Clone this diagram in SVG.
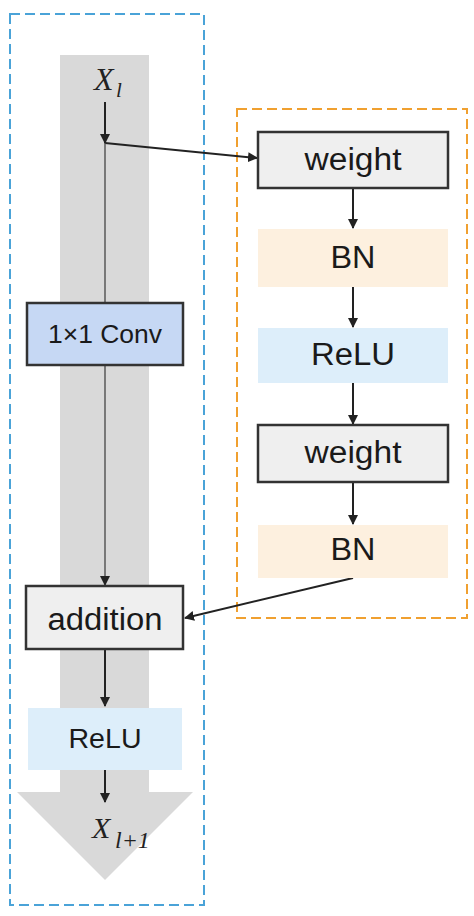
<svg xmlns="http://www.w3.org/2000/svg" width="474" height="916" viewBox="0 0 474 916">
<style>
.t{font-family:"Liberation Sans",Arial,sans-serif;fill:#1a1a1a;text-anchor:middle}
.m{font-family:"Liberation Serif","Times New Roman",serif;font-style:italic;fill:#222}
.ln{stroke:#222;stroke-width:2;fill:none}
.thin{stroke:#444;stroke-width:1.3;fill:none}
.gbox{fill:#efefef;stroke:#333;stroke-width:2.5}
.bn{fill:#fdf0df}
.relu{fill:#ddeefa}
</style>
<defs>
<marker id="ah2" viewBox="0 0 10 10" refX="9" refY="5" markerWidth="10" markerHeight="10" markerUnits="userSpaceOnUse" orient="auto">
<path d="M0,0 L10,5 L0,10 z" fill="#222"/>
</marker>
</defs>
<rect width="474" height="916" fill="#fff"/>
<g id="frames">
<rect x="10" y="14" width="194" height="891" fill="none" stroke="#4aa3d8" stroke-width="2" stroke-dasharray="10,5"/>
<rect x="237" y="109" width="230" height="509" fill="none" stroke="#f0a030" stroke-width="2" stroke-dasharray="10,5"/>
</g>
<g id="main-arrow">
<polygon points="60,55 149,55 149,792 193,792 105,880 17,792 60,792" fill="#d9d9d9"/>
</g>
<g id="connectors">
<line class="ln" x1="105" y1="102" x2="105" y2="143" marker-end="url(#ah2)"/>
<line class="ln" x1="105" y1="143" x2="257" y2="158" marker-end="url(#ah2)"/>
<line class="thin" x1="105" y1="143" x2="105" y2="585" marker-end="url(#ah2)"/>
<line class="ln" x1="353" y1="188" x2="353" y2="228" marker-end="url(#ah2)"/>
<line class="ln" x1="353" y1="287" x2="353" y2="327" marker-end="url(#ah2)"/>
<line class="ln" x1="353" y1="383" x2="353" y2="424" marker-end="url(#ah2)"/>
<line class="ln" x1="353" y1="482" x2="353" y2="524" marker-end="url(#ah2)"/>
<line class="ln" x1="353" y1="578" x2="185" y2="618" marker-end="url(#ah2)"/>
<line class="ln" x1="105" y1="649" x2="105" y2="706" marker-end="url(#ah2)"/>
<line class="ln" x1="105" y1="770" x2="105" y2="802" marker-end="url(#ah2)"/>
</g>
<g id="xl">
<text class="m" x="94" y="90" font-size="32">X</text>
<text class="m" x="116" y="97" font-size="21">l</text>
</g>
<g id="conv">
<rect x="27" y="303" width="156" height="62" fill="#c6d8f4" stroke="#333" stroke-width="2.5"/>
<text class="t" x="105" y="343" font-size="26" textLength="114" lengthAdjust="spacingAndGlyphs">1×1 Conv</text>
</g>
<g id="addition">
<rect class="gbox" x="26" y="586" width="157" height="63"/>
<text class="t" x="105" y="630" font-size="31" textLength="115" lengthAdjust="spacingAndGlyphs">addition</text>
</g>
<g id="relu-out">
<rect class="relu" x="28" y="708" width="154" height="62"/>
<text class="t" x="105" y="748" font-size="27" textLength="73" lengthAdjust="spacingAndGlyphs">ReLU</text>
</g>
<g id="xl1">
<text class="m" x="92" y="838" font-size="30">X</text>
<text class="m" x="115" y="848" font-size="24">l+1</text>
</g>
<g id="weight1">
<rect class="gbox" x="258" y="132" width="190" height="56"/>
<text class="t" x="353" y="170" font-size="31" textLength="97" lengthAdjust="spacingAndGlyphs">weight</text>
</g>
<g id="bn1">
<rect class="bn" x="258" y="229" width="190" height="58"/>
<text class="t" x="353" y="268" font-size="31" textLength="45" lengthAdjust="spacingAndGlyphs">BN</text>
</g>
<g id="relu1">
<rect class="relu" x="258" y="328" width="190" height="55"/>
<text class="t" x="353" y="365" font-size="31" textLength="84" lengthAdjust="spacingAndGlyphs">ReLU</text>
</g>
<g id="weight2">
<rect class="gbox" x="258" y="425" width="190" height="57"/>
<text class="t" x="353" y="463" font-size="31" textLength="97" lengthAdjust="spacingAndGlyphs">weight</text>
</g>
<g id="bn2">
<rect class="bn" x="258" y="525" width="190" height="53"/>
<text class="t" x="353" y="560" font-size="31" textLength="45" lengthAdjust="spacingAndGlyphs">BN</text>
</g>
</svg>
